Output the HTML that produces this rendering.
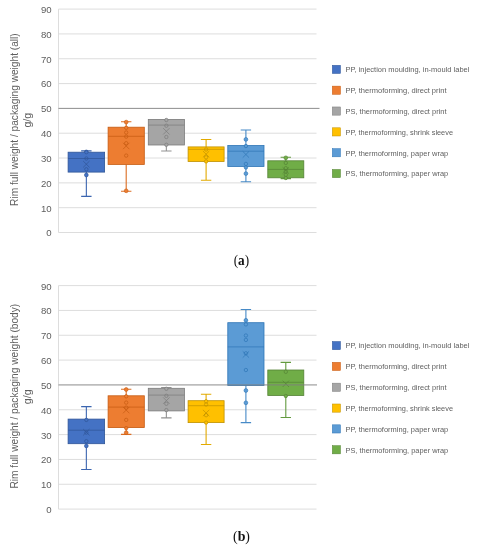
<!DOCTYPE html>
<html lang="en">
<head>
<meta charset="utf-8">
<title>Rim full weight / packaging weight</title>
<style>
html,body{margin:0;padding:0;background:#fff;}
svg{display:block;font-family:"Liberation Sans",sans-serif;}
</style>
</head>
<body>
<svg width="479" height="550" viewBox="0 0 479 550">
<rect width="479" height="550" fill="#fff"/>
<path d="M58.5 232.5H316.5" stroke="#D9D9D9" stroke-width="0.9" fill="none"/>
<path d="M58.5 207.68H316.5" stroke="#D9D9D9" stroke-width="0.9" fill="none"/>
<path d="M58.5 182.86H316.5" stroke="#D9D9D9" stroke-width="0.9" fill="none"/>
<path d="M58.5 158.03H316.5" stroke="#D9D9D9" stroke-width="0.9" fill="none"/>
<path d="M58.5 133.21H316.5" stroke="#D9D9D9" stroke-width="0.9" fill="none"/>
<path d="M58.5 83.57H316.5" stroke="#D9D9D9" stroke-width="0.9" fill="none"/>
<path d="M58.5 58.74H316.5" stroke="#D9D9D9" stroke-width="0.9" fill="none"/>
<path d="M58.5 33.92H316.5" stroke="#D9D9D9" stroke-width="0.9" fill="none"/>
<path d="M58.5 9.1H316.5" stroke="#D9D9D9" stroke-width="0.9" fill="none"/>
<path d="M58.5 9.1V232.5" stroke="#D9D9D9" stroke-width="0.9" fill="none"/>
<path d="M58.5 108.39H319.5" stroke="#7F7F7F" stroke-width="0.9" fill="none"/>
<path d="M86.35 152.2V150.9M81.15 150.9H91.55" stroke="#3B65B0" stroke-width="1.1" fill="none"/>
<path d="M86.35 172.1V196.4M81.15 196.4H91.55" stroke="#3B65B0" stroke-width="1.1" fill="none"/>
<circle cx="86.35" cy="151.8" r="1.8" fill="#4472C4" stroke="#2F5597" stroke-width="0.6"/>
<rect x="68.1" y="152.2" width="36.5" height="19.9" fill="#4472C4" stroke="#2F5597" stroke-width="0.8"/>
<path d="M68.1 158.5H104.6" stroke="#2F5597" stroke-width="0.7" fill="none"/>
<path d="M83.15 161L89.55 167.4M89.55 161L83.15 167.4" stroke="#2F5597" stroke-width="0.7" fill="none"/>
<circle cx="86.35" cy="152.2" r="1.7" fill="#4472C4" stroke="#2F5597" stroke-width="0.7"/>
<circle cx="86.35" cy="158.5" r="1.7" fill="none" stroke="#2F5597" stroke-width="0.7"/>
<circle cx="86.35" cy="169.3" r="1.7" fill="none" stroke="#2F5597" stroke-width="0.7"/>
<circle cx="86.35" cy="175" r="1.9" fill="#4472C4" stroke="#2F5597" stroke-width="0.6"/>
<path d="M126.2 127.2V121.7M121 121.7H131.4" stroke="#DB6D23" stroke-width="1.1" fill="none"/>
<path d="M126.2 164.4V191.2M121 191.2H131.4" stroke="#DB6D23" stroke-width="1.1" fill="none"/>
<rect x="108.1" y="127.2" width="36.2" height="37.2" fill="#ED7D31" stroke="#C55A11" stroke-width="0.8"/>
<path d="M108.1 136.3H144.3" stroke="#C55A11" stroke-width="0.7" fill="none"/>
<path d="M123 142.8L129.4 149.2M129.4 142.8L123 149.2" stroke="#C55A11" stroke-width="0.7" fill="none"/>
<circle cx="126.2" cy="127.8" r="1.7" fill="#ED7D31" stroke="#C55A11" stroke-width="0.7"/>
<circle cx="126.2" cy="132.5" r="1.7" fill="none" stroke="#C55A11" stroke-width="0.7"/>
<circle cx="126.2" cy="136.6" r="1.7" fill="none" stroke="#C55A11" stroke-width="0.7"/>
<circle cx="126.2" cy="143.2" r="1.7" fill="none" stroke="#C55A11" stroke-width="0.7"/>
<circle cx="126.2" cy="155.6" r="1.7" fill="none" stroke="#C55A11" stroke-width="0.7"/>
<circle cx="126.2" cy="122.1" r="1.9" fill="#ED7D31" stroke="#C55A11" stroke-width="0.6"/>
<circle cx="126.2" cy="190.8" r="1.9" fill="#ED7D31" stroke="#C55A11" stroke-width="0.6"/>
<path d="M166.35 145V151M161.15 151H171.55" stroke="#929292" stroke-width="1.1" fill="none"/>
<rect x="148.3" y="119.4" width="36.1" height="25.6" fill="#A5A5A5" stroke="#7B7B7B" stroke-width="0.8"/>
<path d="M148.3 125.1H184.4" stroke="#7B7B7B" stroke-width="0.7" fill="none"/>
<path d="M163.15 128.1L169.55 134.5M169.55 128.1L163.15 134.5" stroke="#7B7B7B" stroke-width="0.7" fill="none"/>
<circle cx="166.35" cy="120" r="1.7" fill="#A5A5A5" stroke="#7B7B7B" stroke-width="0.7"/>
<circle cx="166.35" cy="125.7" r="1.7" fill="none" stroke="#7B7B7B" stroke-width="0.7"/>
<circle cx="166.35" cy="137" r="1.7" fill="none" stroke="#7B7B7B" stroke-width="0.7"/>
<circle cx="166.35" cy="144.8" r="1.7" fill="#A5A5A5" stroke="#7B7B7B" stroke-width="0.7"/>
<path d="M206.1 146.9V139.5M200.9 139.5H211.3" stroke="#E2AA00" stroke-width="1.1" fill="none"/>
<path d="M206.1 161.5V180.3M200.9 180.3H211.3" stroke="#E2AA00" stroke-width="1.1" fill="none"/>
<rect x="188.1" y="146.9" width="36" height="14.6" fill="#FFC000" stroke="#BF9000" stroke-width="0.8"/>
<path d="M188.1 149.3H224.1" stroke="#BF9000" stroke-width="0.7" fill="none"/>
<path d="M202.9 151L209.3 157.4M209.3 151L202.9 157.4" stroke="#BF9000" stroke-width="0.7" fill="none"/>
<circle cx="206.1" cy="149.5" r="1.7" fill="none" stroke="#BF9000" stroke-width="0.7"/>
<circle cx="206.1" cy="157.3" r="1.7" fill="none" stroke="#BF9000" stroke-width="0.7"/>
<circle cx="206.1" cy="161.4" r="1.7" fill="#FFC000" stroke="#BF9000" stroke-width="0.7"/>
<path d="M245.9 145.5V130M240.7 130H251.1" stroke="#478AC7" stroke-width="1.1" fill="none"/>
<path d="M245.9 166.5V181.8M240.7 181.8H251.1" stroke="#478AC7" stroke-width="1.1" fill="none"/>
<rect x="227.8" y="145.5" width="36.2" height="21" fill="#5B9BD5" stroke="#2E75B6" stroke-width="0.8"/>
<path d="M227.8 151.2H264" stroke="#2E75B6" stroke-width="0.7" fill="none"/>
<path d="M242.7 151.3L249.1 157.7M249.1 151.3L242.7 157.7" stroke="#2E75B6" stroke-width="0.7" fill="none"/>
<circle cx="245.9" cy="146" r="1.7" fill="#5B9BD5" stroke="#2E75B6" stroke-width="0.7"/>
<circle cx="245.9" cy="163.9" r="1.7" fill="none" stroke="#2E75B6" stroke-width="0.7"/>
<circle cx="245.9" cy="167.5" r="1.7" fill="#5B9BD5" stroke="#2E75B6" stroke-width="0.7"/>
<circle cx="245.9" cy="139.4" r="1.9" fill="#5B9BD5" stroke="#2E75B6" stroke-width="0.6"/>
<circle cx="245.9" cy="173.6" r="1.9" fill="#5B9BD5" stroke="#2E75B6" stroke-width="0.6"/>
<path d="M285.8 160.8V157.3M280.6 157.3H291" stroke="#639A3F" stroke-width="1.1" fill="none"/>
<path d="M285.8 177.8V178.6M280.6 178.6H291" stroke="#639A3F" stroke-width="1.1" fill="none"/>
<rect x="267.8" y="160.8" width="36" height="17" fill="#70AD47" stroke="#548235" stroke-width="0.8"/>
<path d="M267.8 169.4H303.8" stroke="#548235" stroke-width="0.7" fill="none"/>
<path d="M282.6 167.3L289 173.7M289 167.3L282.6 173.7" stroke="#548235" stroke-width="0.7" fill="none"/>
<circle cx="285.8" cy="162.9" r="1.7" fill="none" stroke="#548235" stroke-width="0.7"/>
<circle cx="285.8" cy="168.2" r="1.7" fill="none" stroke="#548235" stroke-width="0.7"/>
<circle cx="285.8" cy="171.4" r="1.7" fill="none" stroke="#548235" stroke-width="0.7"/>
<circle cx="285.8" cy="174.8" r="1.7" fill="none" stroke="#548235" stroke-width="0.7"/>
<circle cx="285.8" cy="178" r="1.7" fill="#70AD47" stroke="#548235" stroke-width="0.7"/>
<circle cx="285.8" cy="157.8" r="1.9" fill="#70AD47" stroke="#548235" stroke-width="0.6"/>
<text x="51.6" y="236.4" text-anchor="end" font-size="9.4" textLength="5.35" lengthAdjust="spacingAndGlyphs" fill="#5E5E5E">0</text>
<text x="51.6" y="211.58" text-anchor="end" font-size="9.4" textLength="10.7" lengthAdjust="spacingAndGlyphs" fill="#5E5E5E">10</text>
<text x="51.6" y="186.76" text-anchor="end" font-size="9.4" textLength="10.7" lengthAdjust="spacingAndGlyphs" fill="#5E5E5E">20</text>
<text x="51.6" y="161.93" text-anchor="end" font-size="9.4" textLength="10.7" lengthAdjust="spacingAndGlyphs" fill="#5E5E5E">30</text>
<text x="51.6" y="137.11" text-anchor="end" font-size="9.4" textLength="10.7" lengthAdjust="spacingAndGlyphs" fill="#5E5E5E">40</text>
<text x="51.6" y="112.29" text-anchor="end" font-size="9.4" textLength="10.7" lengthAdjust="spacingAndGlyphs" fill="#5E5E5E">50</text>
<text x="51.6" y="87.47" text-anchor="end" font-size="9.4" textLength="10.7" lengthAdjust="spacingAndGlyphs" fill="#5E5E5E">60</text>
<text x="51.6" y="62.64" text-anchor="end" font-size="9.4" textLength="10.7" lengthAdjust="spacingAndGlyphs" fill="#5E5E5E">70</text>
<text x="51.6" y="37.82" text-anchor="end" font-size="9.4" textLength="10.7" lengthAdjust="spacingAndGlyphs" fill="#5E5E5E">80</text>
<text x="51.6" y="13" text-anchor="end" font-size="9.4" textLength="10.7" lengthAdjust="spacingAndGlyphs" fill="#5E5E5E">90</text>
<text transform="translate(17.6 119.6) rotate(-90)" text-anchor="middle" font-size="10.2" textLength="172.6" lengthAdjust="spacingAndGlyphs" fill="#5E5E5E">Rim full weight / packaging weight (all)</text>
<text transform="translate(31.0 120.2) rotate(-90)" text-anchor="middle" font-size="10.2" textLength="14.8" lengthAdjust="spacingAndGlyphs" fill="#5E5E5E">g/g</text>
<rect x="332.3" y="65.3" width="8.2" height="8.2" fill="#4472C4" stroke="#2F5597" stroke-width="0.5"/>
<text x="345.5" y="72.2" font-size="8" textLength="123.9" lengthAdjust="spacingAndGlyphs" fill="#5E5E5E">PP, injection moulding, in-mould label</text>
<rect x="332.3" y="86.13" width="8.2" height="8.2" fill="#ED7D31" stroke="#C55A11" stroke-width="0.5"/>
<text x="345.5" y="93.03" font-size="8" textLength="101.0" lengthAdjust="spacingAndGlyphs" fill="#5E5E5E">PP, thermoforming, direct print</text>
<rect x="332.3" y="106.96" width="8.2" height="8.2" fill="#A5A5A5" stroke="#7B7B7B" stroke-width="0.5"/>
<text x="345.5" y="113.86" font-size="8" textLength="101.0" lengthAdjust="spacingAndGlyphs" fill="#5E5E5E">PS, thermoforming, direct print</text>
<rect x="332.3" y="127.79" width="8.2" height="8.2" fill="#FFC000" stroke="#BF9000" stroke-width="0.5"/>
<text x="345.5" y="134.69" font-size="8" textLength="107.5" lengthAdjust="spacingAndGlyphs" fill="#5E5E5E">PP, thermoforming, shrink sleeve</text>
<rect x="332.3" y="148.62" width="8.2" height="8.2" fill="#5B9BD5" stroke="#2E75B6" stroke-width="0.5"/>
<text x="345.5" y="155.52" font-size="8" textLength="102.7" lengthAdjust="spacingAndGlyphs" fill="#5E5E5E">PP, thermoforming, paper wrap</text>
<rect x="332.3" y="169.45" width="8.2" height="8.2" fill="#70AD47" stroke="#548235" stroke-width="0.5"/>
<text x="345.5" y="176.35" font-size="8" textLength="102.7" lengthAdjust="spacingAndGlyphs" fill="#5E5E5E">PS, thermoforming, paper wrap</text>
<path d="M58.5 509.1H316.5" stroke="#D9D9D9" stroke-width="0.9" fill="none"/>
<path d="M58.5 484.27H316.5" stroke="#D9D9D9" stroke-width="0.9" fill="none"/>
<path d="M58.5 459.43H316.5" stroke="#D9D9D9" stroke-width="0.9" fill="none"/>
<path d="M58.5 434.6H316.5" stroke="#D9D9D9" stroke-width="0.9" fill="none"/>
<path d="M58.5 409.77H316.5" stroke="#D9D9D9" stroke-width="0.9" fill="none"/>
<path d="M58.5 360.1H316.5" stroke="#D9D9D9" stroke-width="0.9" fill="none"/>
<path d="M58.5 335.27H316.5" stroke="#D9D9D9" stroke-width="0.9" fill="none"/>
<path d="M58.5 310.43H316.5" stroke="#D9D9D9" stroke-width="0.9" fill="none"/>
<path d="M58.5 285.6H316.5" stroke="#D9D9D9" stroke-width="0.9" fill="none"/>
<path d="M58.5 285.6V509.1" stroke="#D9D9D9" stroke-width="0.9" fill="none"/>
<path d="M86.35 419.1V406.6M81.15 406.6H91.55" stroke="#3B65B0" stroke-width="1.1" fill="none"/>
<path d="M86.35 443.7V469.5M81.15 469.5H91.55" stroke="#3B65B0" stroke-width="1.1" fill="none"/>
<rect x="68.1" y="419.1" width="36.5" height="24.6" fill="#4472C4" stroke="#2F5597" stroke-width="0.8"/>
<path d="M68.1 430.2H104.6" stroke="#2F5597" stroke-width="0.7" fill="none"/>
<path d="M83.15 429L89.55 435.4M89.55 429L83.15 435.4" stroke="#2F5597" stroke-width="0.7" fill="none"/>
<circle cx="86.35" cy="419.9" r="1.7" fill="#4472C4" stroke="#2F5597" stroke-width="0.7"/>
<circle cx="86.35" cy="432.6" r="1.7" fill="none" stroke="#2F5597" stroke-width="0.7"/>
<circle cx="86.35" cy="441.2" r="1.7" fill="none" stroke="#2F5597" stroke-width="0.7"/>
<circle cx="86.35" cy="445.9" r="1.9" fill="#4472C4" stroke="#2F5597" stroke-width="0.6"/>
<path d="M126.2 395.8V389.3M121 389.3H131.4" stroke="#DB6D23" stroke-width="1.1" fill="none"/>
<path d="M126.2 427.6V434.4M121 434.4H131.4" stroke="#DB6D23" stroke-width="1.1" fill="none"/>
<rect x="108.1" y="395.8" width="36.2" height="31.8" fill="#ED7D31" stroke="#C55A11" stroke-width="0.8"/>
<path d="M108.1 407.1H144.3" stroke="#C55A11" stroke-width="0.7" fill="none"/>
<path d="M123 406.9L129.4 413.3M129.4 406.9L123 413.3" stroke="#C55A11" stroke-width="0.7" fill="none"/>
<circle cx="126.2" cy="396.3" r="1.7" fill="#ED7D31" stroke="#C55A11" stroke-width="0.7"/>
<circle cx="126.2" cy="402.6" r="1.7" fill="none" stroke="#C55A11" stroke-width="0.7"/>
<circle cx="126.2" cy="407.6" r="1.7" fill="none" stroke="#C55A11" stroke-width="0.7"/>
<circle cx="126.2" cy="419.9" r="1.7" fill="none" stroke="#C55A11" stroke-width="0.7"/>
<circle cx="126.2" cy="428.1" r="1.7" fill="#ED7D31" stroke="#C55A11" stroke-width="0.7"/>
<circle cx="126.2" cy="389.5" r="1.9" fill="#ED7D31" stroke="#C55A11" stroke-width="0.6"/>
<circle cx="126.2" cy="432.7" r="1.9" fill="#ED7D31" stroke="#C55A11" stroke-width="0.6"/>
<path d="M166.35 388.3V387.5M161.15 387.5H171.55" stroke="#929292" stroke-width="1.1" fill="none"/>
<path d="M166.35 410.9V417.9M161.15 417.9H171.55" stroke="#929292" stroke-width="1.1" fill="none"/>
<rect x="148.3" y="388.3" width="36.1" height="22.6" fill="#A5A5A5" stroke="#7B7B7B" stroke-width="0.8"/>
<path d="M148.3 395.1H184.4" stroke="#7B7B7B" stroke-width="0.7" fill="none"/>
<path d="M163.15 397.4L169.55 403.8M169.55 397.4L163.15 403.8" stroke="#7B7B7B" stroke-width="0.7" fill="none"/>
<circle cx="166.35" cy="388.8" r="1.7" fill="#A5A5A5" stroke="#7B7B7B" stroke-width="0.7"/>
<circle cx="166.35" cy="395.8" r="1.7" fill="none" stroke="#7B7B7B" stroke-width="0.7"/>
<circle cx="166.35" cy="403.8" r="1.7" fill="none" stroke="#7B7B7B" stroke-width="0.7"/>
<circle cx="166.35" cy="410.1" r="1.7" fill="#A5A5A5" stroke="#7B7B7B" stroke-width="0.7"/>
<path d="M206.1 400.7V394.3M200.9 394.3H211.3" stroke="#E2AA00" stroke-width="1.1" fill="none"/>
<path d="M206.1 422.6V444.5M200.9 444.5H211.3" stroke="#E2AA00" stroke-width="1.1" fill="none"/>
<rect x="188.1" y="400.7" width="36" height="21.9" fill="#FFC000" stroke="#BF9000" stroke-width="0.8"/>
<path d="M188.1 405.7H224.1" stroke="#BF9000" stroke-width="0.7" fill="none"/>
<path d="M202.9 409.8L209.3 416.2M209.3 409.8L202.9 416.2" stroke="#BF9000" stroke-width="0.7" fill="none"/>
<circle cx="206.1" cy="401.3" r="1.7" fill="#FFC000" stroke="#BF9000" stroke-width="0.7"/>
<circle cx="206.1" cy="404.5" r="1.7" fill="none" stroke="#BF9000" stroke-width="0.7"/>
<circle cx="206.1" cy="415.2" r="1.7" fill="none" stroke="#BF9000" stroke-width="0.7"/>
<circle cx="206.1" cy="422.6" r="1.7" fill="#FFC000" stroke="#BF9000" stroke-width="0.7"/>
<path d="M245.9 322.7V309.5M240.7 309.5H251.1" stroke="#478AC7" stroke-width="1.1" fill="none"/>
<path d="M245.9 385.5V422.6M240.7 422.6H251.1" stroke="#478AC7" stroke-width="1.1" fill="none"/>
<rect x="227.8" y="322.7" width="36.2" height="62.8" fill="#5B9BD5" stroke="#2E75B6" stroke-width="0.8"/>
<path d="M227.8 346.9H264" stroke="#2E75B6" stroke-width="0.7" fill="none"/>
<path d="M242.7 351.3L249.1 357.7M249.1 351.3L242.7 357.7" stroke="#2E75B6" stroke-width="0.7" fill="none"/>
<circle cx="245.9" cy="324.4" r="1.7" fill="#5B9BD5" stroke="#2E75B6" stroke-width="0.7"/>
<circle cx="245.9" cy="335.5" r="1.7" fill="none" stroke="#2E75B6" stroke-width="0.7"/>
<circle cx="245.9" cy="339.9" r="1.7" fill="none" stroke="#2E75B6" stroke-width="0.7"/>
<circle cx="245.9" cy="353.3" r="1.7" fill="none" stroke="#2E75B6" stroke-width="0.7"/>
<circle cx="245.9" cy="370" r="1.7" fill="none" stroke="#2E75B6" stroke-width="0.7"/>
<circle cx="245.9" cy="320.3" r="1.9" fill="#5B9BD5" stroke="#2E75B6" stroke-width="0.6"/>
<circle cx="245.9" cy="390.5" r="1.9" fill="#5B9BD5" stroke="#2E75B6" stroke-width="0.6"/>
<circle cx="245.9" cy="402.8" r="1.9" fill="#5B9BD5" stroke="#2E75B6" stroke-width="0.6"/>
<path d="M285.8 370V362.4M280.6 362.4H291" stroke="#639A3F" stroke-width="1.1" fill="none"/>
<path d="M285.8 395.5V417.5M280.6 417.5H291" stroke="#639A3F" stroke-width="1.1" fill="none"/>
<rect x="267.8" y="370" width="36" height="25.5" fill="#70AD47" stroke="#548235" stroke-width="0.8"/>
<path d="M267.8 382.3H303.8" stroke="#548235" stroke-width="0.7" fill="none"/>
<path d="M282.6 380.6L289 387M289 380.6L282.6 387" stroke="#548235" stroke-width="0.7" fill="none"/>
<circle cx="285.8" cy="371.8" r="1.7" fill="#70AD47" stroke="#548235" stroke-width="0.7"/>
<circle cx="285.8" cy="396" r="1.7" fill="#70AD47" stroke="#548235" stroke-width="0.7"/>
<path d="M58.5 384.93H317" stroke="#7F7F7F" stroke-width="0.9" fill="none"/>
<text x="51.6" y="513" text-anchor="end" font-size="9.4" textLength="5.35" lengthAdjust="spacingAndGlyphs" fill="#5E5E5E">0</text>
<text x="51.6" y="488.17" text-anchor="end" font-size="9.4" textLength="10.7" lengthAdjust="spacingAndGlyphs" fill="#5E5E5E">10</text>
<text x="51.6" y="463.33" text-anchor="end" font-size="9.4" textLength="10.7" lengthAdjust="spacingAndGlyphs" fill="#5E5E5E">20</text>
<text x="51.6" y="438.5" text-anchor="end" font-size="9.4" textLength="10.7" lengthAdjust="spacingAndGlyphs" fill="#5E5E5E">30</text>
<text x="51.6" y="413.67" text-anchor="end" font-size="9.4" textLength="10.7" lengthAdjust="spacingAndGlyphs" fill="#5E5E5E">40</text>
<text x="51.6" y="388.83" text-anchor="end" font-size="9.4" textLength="10.7" lengthAdjust="spacingAndGlyphs" fill="#5E5E5E">50</text>
<text x="51.6" y="364" text-anchor="end" font-size="9.4" textLength="10.7" lengthAdjust="spacingAndGlyphs" fill="#5E5E5E">60</text>
<text x="51.6" y="339.17" text-anchor="end" font-size="9.4" textLength="10.7" lengthAdjust="spacingAndGlyphs" fill="#5E5E5E">70</text>
<text x="51.6" y="314.33" text-anchor="end" font-size="9.4" textLength="10.7" lengthAdjust="spacingAndGlyphs" fill="#5E5E5E">80</text>
<text x="51.6" y="289.5" text-anchor="end" font-size="9.4" textLength="10.7" lengthAdjust="spacingAndGlyphs" fill="#5E5E5E">90</text>
<text transform="translate(17.6 396.15) rotate(-90)" text-anchor="middle" font-size="10.2" textLength="184.8" lengthAdjust="spacingAndGlyphs" fill="#5E5E5E">Rim full weight / packaging weight (body)</text>
<text transform="translate(31.0 396.75) rotate(-90)" text-anchor="middle" font-size="10.2" textLength="14.8" lengthAdjust="spacingAndGlyphs" fill="#5E5E5E">g/g</text>
<rect x="332.3" y="341.5" width="8.2" height="8.2" fill="#4472C4" stroke="#2F5597" stroke-width="0.5"/>
<text x="345.5" y="348.4" font-size="8" textLength="123.9" lengthAdjust="spacingAndGlyphs" fill="#5E5E5E">PP, injection moulding, in-mould label</text>
<rect x="332.3" y="362.33" width="8.2" height="8.2" fill="#ED7D31" stroke="#C55A11" stroke-width="0.5"/>
<text x="345.5" y="369.23" font-size="8" textLength="101.0" lengthAdjust="spacingAndGlyphs" fill="#5E5E5E">PP, thermoforming, direct print</text>
<rect x="332.3" y="383.16" width="8.2" height="8.2" fill="#A5A5A5" stroke="#7B7B7B" stroke-width="0.5"/>
<text x="345.5" y="390.06" font-size="8" textLength="101.0" lengthAdjust="spacingAndGlyphs" fill="#5E5E5E">PS, thermoforming, direct print</text>
<rect x="332.3" y="403.99" width="8.2" height="8.2" fill="#FFC000" stroke="#BF9000" stroke-width="0.5"/>
<text x="345.5" y="410.89" font-size="8" textLength="107.5" lengthAdjust="spacingAndGlyphs" fill="#5E5E5E">PP, thermoforming, shrink sleeve</text>
<rect x="332.3" y="424.82" width="8.2" height="8.2" fill="#5B9BD5" stroke="#2E75B6" stroke-width="0.5"/>
<text x="345.5" y="431.72" font-size="8" textLength="102.7" lengthAdjust="spacingAndGlyphs" fill="#5E5E5E">PP, thermoforming, paper wrap</text>
<rect x="332.3" y="445.65" width="8.2" height="8.2" fill="#70AD47" stroke="#548235" stroke-width="0.5"/>
<text x="345.5" y="452.55" font-size="8" textLength="102.7" lengthAdjust="spacingAndGlyphs" fill="#5E5E5E">PS, thermoforming, paper wrap</text>
<text x="241.4" y="265" text-anchor="middle" font-family="'Liberation Serif', serif" font-size="14.5" textLength="15.5" lengthAdjust="spacingAndGlyphs" fill="#111">(<tspan font-weight="bold">a</tspan>)</text>
<text x="241.5" y="541" text-anchor="middle" font-family="'Liberation Serif', serif" font-size="14.5" textLength="17" lengthAdjust="spacingAndGlyphs" fill="#111">(<tspan font-weight="bold">b</tspan>)</text>
</svg>
</body>
</html>
